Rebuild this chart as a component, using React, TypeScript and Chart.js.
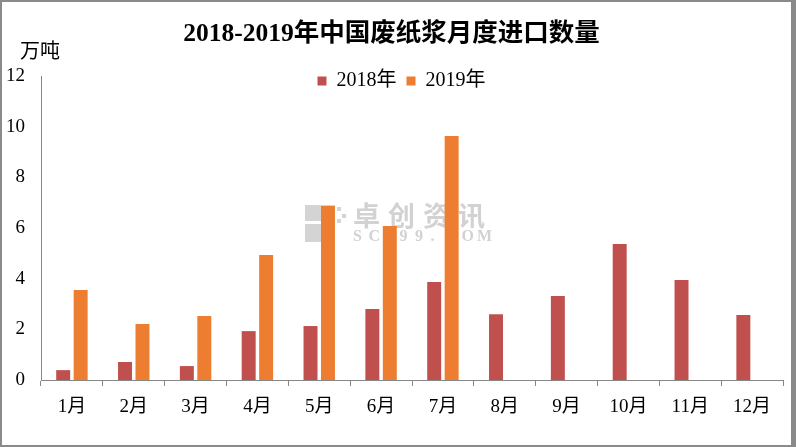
import React, { useEffect, useRef } from "react";
import { Chart, registerables } from "chart.js";

Chart.register(...registerables);

const categories = ["1月", "2月", "3月", "4月", "5月", "6月", "7月", "8月", "9月", "10月", "11月", "12月"];
const series2018 = [0.39, 0.71, 0.55, 1.93, 2.13, 2.8, 3.87, 2.6, 3.32, 5.37, 3.95, 2.57];
const series2019 = [3.55, 2.21, 2.53, 4.93, 6.87, 6.08, 9.63, null, null, null, null, null];
const seriesNames = ["2018年", "2019年"];
const titleText = "2018-2019年中国废纸浆月度进口数量";
const unitText = "万吨";
const yMax = 12;
const yStep = 2;

const FONT = '"Liberation Serif", "Noto Sans CJK SC", serif';
const AXIS_COLOR = "#868686";

export default function App() {
  const ref = useRef<HTMLCanvasElement | null>(null);

  useEffect(() => {
    if (!ref.current) return;
    const decor = {
      id: "decor",
      afterLayout(chart: any) {
        const lg = chart.legend;
        if (lg) {
          const h = lg.bottom - lg.top;
          lg.top = 61;
          lg.bottom = 61 + h;
          lg.left += 10;
          lg.right += 10;
        }
      },
      beforeDatasetsDraw(chart: any) {
        const ctx = chart.ctx;
        const a = chart.chartArea;
        ctx.save();
        const wx = a.left + 264;
        const wy = 205;
        ctx.fillStyle = "#d4d4d4";
        ctx.fillRect(wx, wy, 30, 16);
        ctx.fillRect(wx, wy + 19, 30, 18);
        ctx.fillRect(wx + 32, wy + 2, 4, 4);
        ctx.fillRect(wx + 37, wy + 9, 4, 4);
        ctx.fillRect(wx + 32, wy + 14, 4, 4);
        ctx.fillStyle = "#d2d2d2";
        ctx.textBaseline = "middle";
        ctx.textAlign = "left";
        ctx.font = 'bold 27px "Noto Sans CJK SC", sans-serif';
        const cn = "卓创资讯";
        for (let i = 0; i < cn.length; i++) {
          ctx.fillText(cn[i], wx + 48 + i * 35, wy + 11);
        }
        ctx.font = 'bold 16px "Liberation Serif", serif';
        const en = "SCI99.COM";
        for (let i = 0; i < en.length; i++) {
          ctx.fillText(en[i], wx + 48 + i * 15.5, wy + 32);
        }
        ctx.restore();
      },
      afterDraw(chart: any) {
        const ctx = chart.ctx;
        ctx.save();
        ctx.fillStyle = "#000";
        ctx.font = `20px ${FONT}`;
        ctx.textBaseline = "middle";
        ctx.textAlign = "left";
        ctx.fillText(unitText, 20, 53);
        ctx.restore();
      },
    };

    const chart = new Chart(ref.current, {
      type: "bar",
      data: {
        labels: categories,
        datasets: [
          {
            label: seriesNames[0],
            data: series2018,
            backgroundColor: "#C0504D",
            categoryPercentage: 0.565,
            barPercentage: 0.8,
          },
          {
            label: seriesNames[1],
            data: series2019 as any,
            backgroundColor: "#ED7D31",
            categoryPercentage: 0.565,
            barPercentage: 0.8,
          },
        ],
      },
      options: {
        responsive: false,
        animation: false,
        layout: { padding: { left: 0, right: 13, top: 0, bottom: 0 } },
        plugins: {
          title: {
            display: true,
            text: titleText,
            color: "#000",
            font: { family: FONT, size: 25.5, weight: "bold", lineHeight: 1.2 },
            padding: { top: 18.7, bottom: -13.3 },
          },
          legend: {
            display: true,
            position: "top",
            labels: {
              color: "#000",
              font: { family: FONT, size: 20 },
              boxWidth: 9,
              boxHeight: 9,
              padding: 10,
            },
          },
          tooltip: { enabled: false },
        },
        scales: {
          x: {
            offset: true,
            grid: {
              display: true,
              drawOnChartArea: false,
              drawTicks: true,
              tickLength: 6,
              color: AXIS_COLOR,
              offset: true,
            },
            border: { display: true, color: AXIS_COLOR, width: 1 },
            ticks: {
              color: "#000",
              font: { family: FONT, size: 19 },
              padding: 10,
              maxRotation: 0,
              autoSkip: false,
            },
            afterFit(scale: any) {
              scale.height = 67;
            },
          },
          y: {
            min: 0,
            max: yMax,
            grid: { display: false, drawTicks: false },
            border: { display: true, color: AXIS_COLOR, width: 1 },
            ticks: {
              stepSize: yStep,
              color: "#000",
              font: { family: FONT, size: 19 },
              padding: 16,
            },
            afterFit(scale: any) {
              scale.width = 41;
            },
          },
        },
      },
      plugins: [decor],
    });
    return () => chart.destroy();
  }, []);

  return (
    <div style={{ position: "absolute", left: 0, top: 0, width: 796, height: 447, background: "#fff" }}>
      <canvas ref={ref} width={796} height={447} style={{ position: "absolute", left: 0, top: 0, width: 796, height: 447 }} />
      <div
        style={{
          position: "absolute",
          left: 0,
          top: 0,
          width: 796,
          height: 447,
          boxSizing: "border-box",
          borderStyle: "solid",
          borderColor: "#8a8a8a",
          borderWidth: "2px 5px 2px 2px",
          pointerEvents: "none",
        }}
      />
    </div>
  );
}
